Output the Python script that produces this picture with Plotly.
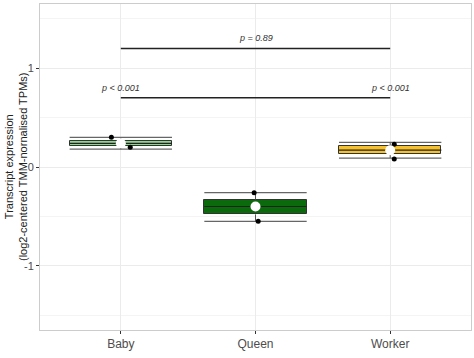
import plotly.graph_objects as go

categories = ["Baby", "Queen", "Worker"]
mean_vals = [0.24, -0.40, 0.17]
box_low = [0.21, -0.48, 0.13]
box_high = [0.26, -0.33, 0.21]
cap_low = [0.18, -0.55, 0.09]
cap_high = [0.30, -0.26, 0.25]
fill_colors = ["#8fd68f", "#0b6a0b", "#f5c22e"]
pt_x = [-0.07, 0.07, -0.01, 0.02, 0.03, 0.03]
pt_group = [0, 0, 1, 1, 2, 2]
pt_y = [0.30, 0.20, -0.26, -0.55, 0.23, 0.08]
sig_levels = [1.2, 0.7]
sig_labels_top = "p = 0.89"
sig_labels_low = ["p < 0.001", "p < 0.001"]

xs = list(range(len(categories)))
hw = 0.38

fig = go.Figure()

wx, wy = [], []
for i in xs:
    wx += [i, i, None, i, i, None]
    wy += [cap_high[i], box_high[i], None, box_low[i], cap_low[i], None]
fig.add_trace(go.Scatter(x=wx, y=wy, mode="lines", line=dict(color="#555555", width=1), showlegend=False, hoverinfo="skip"))

cx, cy = [], []
for i in xs:
    cx += [i - hw, i + hw, None, i - hw, i + hw, None]
    cy += [cap_high[i], cap_high[i], None, cap_low[i], cap_low[i], None]
fig.add_trace(go.Scatter(x=cx, y=cy, mode="lines", line=dict(color="#666666", width=1.3), showlegend=False, hoverinfo="skip"))

fig.add_trace(go.Bar(x=xs, base=box_low, y=[h - l for h, l in zip(box_high, box_low)],
                     width=2 * hw, marker=dict(color=fill_colors, line=dict(color="#333333", width=1)),
                     showlegend=False, hoverinfo="skip"))

mx, my = [], []
for i in xs:
    mx += [i - hw, i + hw, None]
    my += [mean_vals[i], mean_vals[i], None]
fig.add_trace(go.Scatter(x=mx, y=my, mode="lines", line=dict(color="#222222", width=1.2), showlegend=False, hoverinfo="skip"))

fig.add_trace(go.Scatter(x=[g + o for g, o in zip(pt_group, pt_x)], y=pt_y, mode="markers",
                         marker=dict(color="black", size=5), showlegend=False, hoverinfo="skip"))
fig.add_trace(go.Scatter(x=xs, y=mean_vals, mode="markers",
                         marker=dict(color="white", size=10, line=dict(width=0)), showlegend=False, hoverinfo="skip"))

for lvl in sig_levels:
    fig.add_trace(go.Scatter(x=[0, 2], y=[lvl, lvl], mode="lines", line=dict(color="#222222", width=1.5),
                             showlegend=False, hoverinfo="skip"))

annots = [dict(x=1, y=sig_levels[0], text=sig_labels_top),
          dict(x=0, y=sig_levels[1], text=sig_labels_low[0]),
          dict(x=2, y=sig_levels[1], text=sig_labels_low[1])]
for a in annots:
    fig.add_annotation(x=a["x"], y=a["y"], text="<i>" + a["text"] + "</i>", showarrow=False,
                       yanchor="bottom", yshift=3, font=dict(size=9, color="#333333", family="Liberation Sans, Arial"))

fig.add_annotation(xref="paper", yref="paper", x=0, y=0.5, xshift=-24, xanchor="center", yanchor="middle",
                   textangle=-90, showarrow=False,
                   text="Transcript expression<br>(log2-centered TMM-nornalised TPMs)",
                   font=dict(size=11, color="#222222", family="Liberation Sans, Arial"))

fig.update_layout(
    width=474, height=358,
    margin=dict(l=40, r=3, t=4, b=28),
    paper_bgcolor="white", plot_bgcolor="white",
    font=dict(family="Liberation Sans, Arial", size=11, color="#333333"),
    bargap=0,
)
fig.update_xaxes(range=[-0.6, 2.6], tickvals=xs, ticktext=categories, showgrid=True, gridcolor="#ebebeb",
                 gridwidth=1, zeroline=False, showline=True, linecolor="#cccccc", mirror=True, automargin=False,
                 ticks="outside", ticklen=3, tickcolor="#333333", tickfont=dict(size=12, color="#4d4d4d"))
fig.update_yaxes(range=[-1.65, 1.65], tickvals=[-1, 0, 1], ticktext=["-1", "0", "1"], showgrid=True,
                 gridcolor="#ebebeb", gridwidth=1, zeroline=False, showline=True, linecolor="#cccccc", mirror=True,
                 automargin=False,
                 ticks="outside", ticklen=3, tickcolor="#333333", tickfont=dict(size=11, color="#4d4d4d"),
                 minor=dict(tickvals=[-1.5, -0.5, 0.5, 1.5], showgrid=True, gridcolor="#f4f4f4", gridwidth=0.5))

fig.write_html("out.html", config={"displayModeBar": False},
               post_script="document.body.style.margin='0';")
